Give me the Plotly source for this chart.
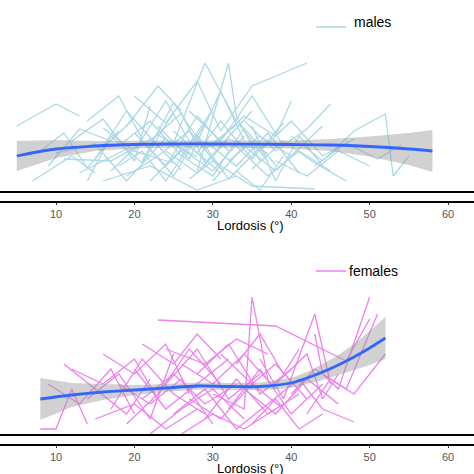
import plotly.graph_objects as go

# ---- data ----
male_lines = [
    [(5,7.5),(10,9.7),(13,8.5)],
    [(7,2.0),(12,4.5),(15,2.8)],
    [(8,5.0),(11,6.8),(14,3.3),(18,7.0)],
    [(9,3.5),(13,7.2),(17,6.0),(20,8.3)],
    [(10,4.8),(15,5.7),(19,2.0),(24,6.3)],
    [(12,6.0),(16,8.2),(20,4.0),(22,9.5)],
    [(14,2.0),(17,6.5),(21,3.8),(25,8.9)],
    [(15,4.2),(19,9.0),(23,5.5),(26,3.1)],
    [(16,7.3),(20,5.0),(24,10.0),(27,6.0)],
    [(17,3.0),(21,6.0),(25,2.5),(29,7.8)],
    [(18,5.5),(22,8.0),(26,4.5),(30,9.2)],
    [(19,2.5),(23,4.5),(27,7.0),(31,3.2)],
    [(20,6.8),(24,3.5),(28,8.5),(32,5.0)],
    [(21,4.0),(25,9.8),(29,5.2),(33,7.6)],
    [(22,2.0),(26,5.2),(30,3.0),(34,6.5)],
    [(23,7.5),(27,4.2),(31,11.0),(34,6.0)],
    [(24,3.5),(28,6.6),(32,2.2),(36,5.3)],
    [(25,5.8),(29,13.8),(33,8.0),(37,4.0)],
    [(26,4.5),(30,2.5),(34,7.3),(38,3.6)],
    [(27,9.0),(31,6.0),(35,10.5),(39,5.5)],
    [(28,3.0),(32,13.8),(33,8.5),(36,4.0)],
    [(29,6.0),(33,3.5),(37,6.8),(41,2.8)],
    [(30,2.0),(34,5.5),(38,3.0),(42,6.0)],
    [(31,7.0),(35,11.5),(42,13.8)],
    [(32,4.0),(36,6.5),(40,4.5),(44,7.5)],
    [(33,5.5),(37,2.5),(41,5.0),(45,3.0)],
    [(34,8.0),(38,5.0),(42,7.2),(45,9.7)],
    [(35,3.2),(39,6.0),(43,3.8),(47,2.0)],
    [(36,5.0),(40,8.0),(44,4.5),(48,6.2)],
    [(38,4.0),(42,2.5),(46,5.0),(50,3.5)],
    [(40,6.5),(44,4.0),(48,7.0),(52,8.7),(53,2.5),(55,4.5)],
    [(43,3.5),(47,5.8),(51,4.2),(54,5.6)],
    [(16,2.0),(22,3.5),(28,1.1),(33,2.5)],
    [(13,2.8),(19,5.2),(25,3.8)],
    [(20,10.5),(24,7.8),(28,12.0),(31,7.0)],
    [(14,8.0),(18,10.5),(21,6.2)],
    [(27,2.2),(30,4.0),(35,1.5),(43,1.2)],
    [(22,6.0),(26,8.8),(29,3.8),(35,9.0)],
    [(30,5.5),(34,8.5),(38,6.5),(40,10.0)],
    [(24,5.0),(28,2.8),(32,6.2),(37,4.8)],
    [(11,4.2),(17,4.0),(23,6.6),(28,4.4)],
    [(35,7.5),(38,2.0),(41,6.5),(44,3.5)],
    [(33,3.0),(36,1.1),(39,4.5)],
    [(19,7.5),(23,11.5),(26,9.0)],
    [(18,3.5),(21,5.0),(24,2.0),(27,5.5),(31,2.8)],
    [(25,7.0),(28,4.8),(31,8.0),(35,4.2),(39,7.8)],
]
female_lines = [
    [(8,1.5),(10,1.5),(12,5.5),(14,2.0)],
    [(9,6.0),(13,4.0),(17,7.5),(20,3.0)],
    [(11,8.0),(15,5.5),(19,3.0),(22,6.5)],
    [(14,4.5),(18,7.0),(22,2.5),(25,9.0)],
    [(16,9.0),(20,7.0),(24,10.0),(27,5.0)],
    [(17,3.5),(21,8.5),(25,5.0),(29,3.0)],
    [(18,6.0),(22,4.0),(26,6.5),(30,2.0)],
    [(19,2.0),(23,5.0),(27,9.5),(31,6.0)],
    [(20,7.5),(24,3.5),(28,6.0),(32,8.5)],
    [(21,4.5),(25,7.0),(29,4.0),(33,6.0)],
    [(22,1.0),(26,3.5),(30,5.5),(34,2.5)],
    [(23,12.4),(38,11.8),(47,8.3),(50,12.5)],
    [(24,6.0),(28,9.5),(32,4.5),(36,7.0)],
    [(25,3.0),(29,5.5),(33,1.5),(37,4.0)],
    [(26,8.0),(30,6.0),(34,9.0),(38,5.5)],
    [(27,4.5),(31,2.5),(35,6.0),(39,3.5)],
    [(28,7.0),(32,10.0),(36,5.0),(40,7.5)],
    [(29,2.5),(33,6.5),(37,3.0),(41,5.0)],
    [(30,5.0),(34,3.5),(35,14.7),(37,6.5)],
    [(31,9.0),(35,6.0),(38,8.0),(42,4.5)],
    [(32,3.5),(36,7.5),(40,3.0),(44,6.0)],
    [(34,5.5),(38,3.0),(42,6.5),(46,4.0)],
    [(36,8.5),(39,4.5),(43,13.0),(45,6.0)],
    [(37,4.0),(41,6.5),(44,3.5),(48,2.2)],
    [(38,6.0),(42,9.0),(44,4.5),(46,7.0)],
    [(40,5.0),(43,7.5),(47,5.5),(51,13.0)],
    [(42,3.0),(45,6.5),(48,5.0),(52,9.0)],
    [(43,11.0),(44,7.0),(46,5.5),(50,14.7)],
    [(15,2.5),(20,4.0),(24,1.5),(28,3.5)],
    [(24,9.5),(29,8.0),(33,10.5),(37,9.0)],
    [(12,7.5),(16,6.0),(20,8.5),(23,4.5)],
    [(26,1.0),(30,3.0),(34,1.5),(38,3.5)],
    [(33,8.0),(36,11.0),(39,7.0),(41,9.5)],
    [(21,10.0),(25,8.0),(28,11.0),(31,8.5)],
    [(35,2.0),(38,4.5),(41,1.5),(44,3.0)],
]
male_smooth_x = [5, 10, 15, 20, 25, 30, 35, 40, 45, 50, 55, 58]
male_smooth_y = [4.5, 5.2, 5.5, 5.65, 5.7, 5.7, 5.68, 5.65, 5.6, 5.45, 5.2, 5.0]
male_band = [1.5, 0.9, 0.5, 0.4, 0.35, 0.35, 0.35, 0.4, 0.6, 1.0, 1.6, 2.1]
female_smooth_x = [8, 12, 16, 20, 24, 28, 32, 36, 40, 42, 44, 46, 48, 50, 52]
female_smooth_y = [4.5, 4.9, 5.2, 5.4, 5.6, 5.8, 5.75, 5.75, 6.1, 6.6, 7.2, 7.9, 8.7, 9.6, 10.6]
female_band = [2.1, 1.2, 0.8, 0.5, 0.4, 0.35, 0.35, 0.4, 0.5, 0.6, 0.8, 1.0, 1.3, 1.7, 2.1]
tick_vals = [10, 20, 30, 40, 50, 60]
x_title = "Lordosis (°)"

H = 474
def py(px):
    return 1 - px / H

fig = go.Figure()

def add_panel(lines, sx, sy, band, color, xa, ya):
    xs, ys = [], []
    for ln in lines:
        for x, y in ln:
            xs.append(x); ys.append(y)
        xs.append(None); ys.append(None)
    fig.add_trace(go.Scatter(x=xs, y=ys, mode="lines", line=dict(color=color, width=1.3),
                             xaxis=xa, yaxis=ya, hoverinfo="skip"))
    up = [a + b for a, b in zip(sy, band)]
    lo = [a - b for a, b in zip(sy, band)]
    fig.add_trace(go.Scatter(x=sx + sx[::-1], y=up + lo[::-1], fill="toself",
                             fillcolor="rgba(153,153,153,0.45)", line=dict(width=0),
                             mode="lines", xaxis=xa, yaxis=ya, hoverinfo="skip"))
    fig.add_trace(go.Scatter(x=sx, y=sy, mode="lines", line=dict(color="#3366ff", width=2.8, shape="spline"),
                             xaxis=xa, yaxis=ya, hoverinfo="skip"))

add_panel(male_lines, male_smooth_x, male_smooth_y, male_band, "#add8e6", "x", "y")
add_panel(female_lines, female_smooth_x, female_smooth_y, female_band, "#ee82ee", "x2", "y2")

xcommon = dict(range=[2.86, 63.3], tickvals=tick_vals, showgrid=False, zeroline=False, automargin=False,
               showline=True, linecolor="black", linewidth=2, ticks="outside", ticklen=2,
               tickcolor="#333", tickfont=dict(family="Liberation Sans, Arial", size=11, color="#555"))
fig.update_layout(
    width=474, height=474, margin=dict(l=0, r=0, t=0, b=0),
    paper_bgcolor="white", plot_bgcolor="white", showlegend=False,
    xaxis=dict(xcommon, anchor="y"),
    yaxis=dict(domain=[py(201), py(30)], range=[0, 17.1], visible=False),
    xaxis2=dict(xcommon, anchor="y2"),
    yaxis2=dict(domain=[py(444), py(280)], range=[0, 16.4], visible=False),
)
for p in (192, 435):
    fig.add_shape(type="line", xref="paper", yref="paper", x0=0, x1=1, y0=py(p), y1=py(p),
                  line=dict(color="black", width=2))
fig.add_annotation(xref="paper", yref="paper", x=250/474, y=py(225), text=x_title, showarrow=False,
                   font=dict(family="Liberation Sans, Arial", size=13, color="black"))
fig.add_annotation(xref="paper", yref="paper", x=250/474, y=0, yanchor="bottom", yshift=-4,
                   text=x_title, showarrow=False,
                   font=dict(family="Liberation Sans, Arial", size=13, color="black"))
for p, c, t, tx, sh in ((27, "#add8e6", "males", 352, 5), (271, "#ee82ee", "females", 347, 0)):
    fig.add_shape(type="line", xref="paper", yref="paper", x0=316/474, x1=346/474, y0=py(p), y1=py(p),
                  line=dict(color=c, width=1.5))
    fig.add_annotation(xref="paper", yref="paper", x=tx/474, y=py(p), yanchor="middle", yshift=sh,
                       text=t, showarrow=False, xanchor="left",
                       font=dict(family="Liberation Sans, Arial", size=14, color="black"))

fig.write_html("out.html", config={"displayModeBar": False},
               post_script="document.body.style.margin='0';document.body.style.overflow='hidden';")
